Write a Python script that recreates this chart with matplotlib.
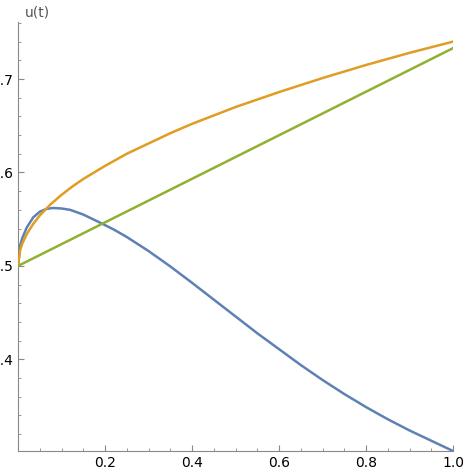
import matplotlib
matplotlib.use("Agg")
import matplotlib.pyplot as plt
from matplotlib.ticker import MultipleLocator

t_blue = [0, 0.005, 0.01, 0.02, 0.035, 0.05, 0.065, 0.08, 0.1, 0.12, 0.15, 0.19, 0.22, 0.25, 0.3, 0.35, 0.4, 0.45, 0.5, 0.55, 0.6, 0.65, 0.7, 0.75, 0.8, 0.85, 0.9, 0.95, 1.0]
u_blue = [0.5, 0.522, 0.530, 0.541, 0.552, 0.558, 0.561, 0.562, 0.5615, 0.560, 0.555, 0.546, 0.539, 0.531, 0.516, 0.4995, 0.482, 0.464, 0.446, 0.428, 0.411, 0.394, 0.378, 0.363, 0.349, 0.336, 0.324, 0.313, 0.302]
t_orange = [0, 0.005, 0.01, 0.02, 0.035, 0.05, 0.075, 0.1, 0.125, 0.15, 0.175, 0.2, 0.25, 0.3, 0.35, 0.4, 0.45, 0.5, 0.6, 0.7, 0.8, 0.9, 1.0]
u_orange = [0.5, 0.517, 0.524, 0.534, 0.545, 0.554, 0.566, 0.576, 0.585, 0.593, 0.600, 0.607, 0.620, 0.631, 0.642, 0.652, 0.661, 0.670, 0.686, 0.701, 0.715, 0.728, 0.740]
t_green = [0, 1.0]
u_green = [0.5, 0.733]

fig = plt.figure(figsize=(4.74, 4.74), dpi=100)
ax = fig.add_axes([18/474, 23/474, (453-18)/474, (451-22)/474])
ax.plot(t_blue, u_blue, color="#5e81b5", lw=1.8, zorder=3, solid_joinstyle="round")
ax.plot(t_orange, u_orange, color="#e19c24", lw=1.8, zorder=3, solid_joinstyle="round")
ax.plot(t_green, u_green, color="#8fb032", lw=1.8, zorder=3)
ax.set_xlim(0, 1.0)
ax.set_ylim(0.302, 0.761)
for s in ["top", "right"]:
    ax.spines[s].set_visible(False)
for s in ["left", "bottom"]:
    ax.spines[s].set_color("#888888")
ax.xaxis.set_minor_locator(MultipleLocator(0.05))
ax.yaxis.set_minor_locator(MultipleLocator(0.02))
ax.set_xticks([0.2, 0.4, 0.6, 0.8, 1.0])
ax.set_xticklabels(["0.2", "0.4", "0.6", "0.8", "1.0"])
ax.set_yticks([0.4, 0.5, 0.6, 0.7])
ax.set_yticklabels(["0.4", "0.5", "0.6", "0.7"])
ax.tick_params(which="both", direction="in", color="#888888", labelsize=10)
ax.tick_params(which="major", length=4)
ax.tick_params(which="minor", length=2)
fig.text(25/474, 1 - 12/474, "u(t)", fontsize=10, color="#555555", ha="left", va="center")
fig.savefig("out.png", dpi=100)
